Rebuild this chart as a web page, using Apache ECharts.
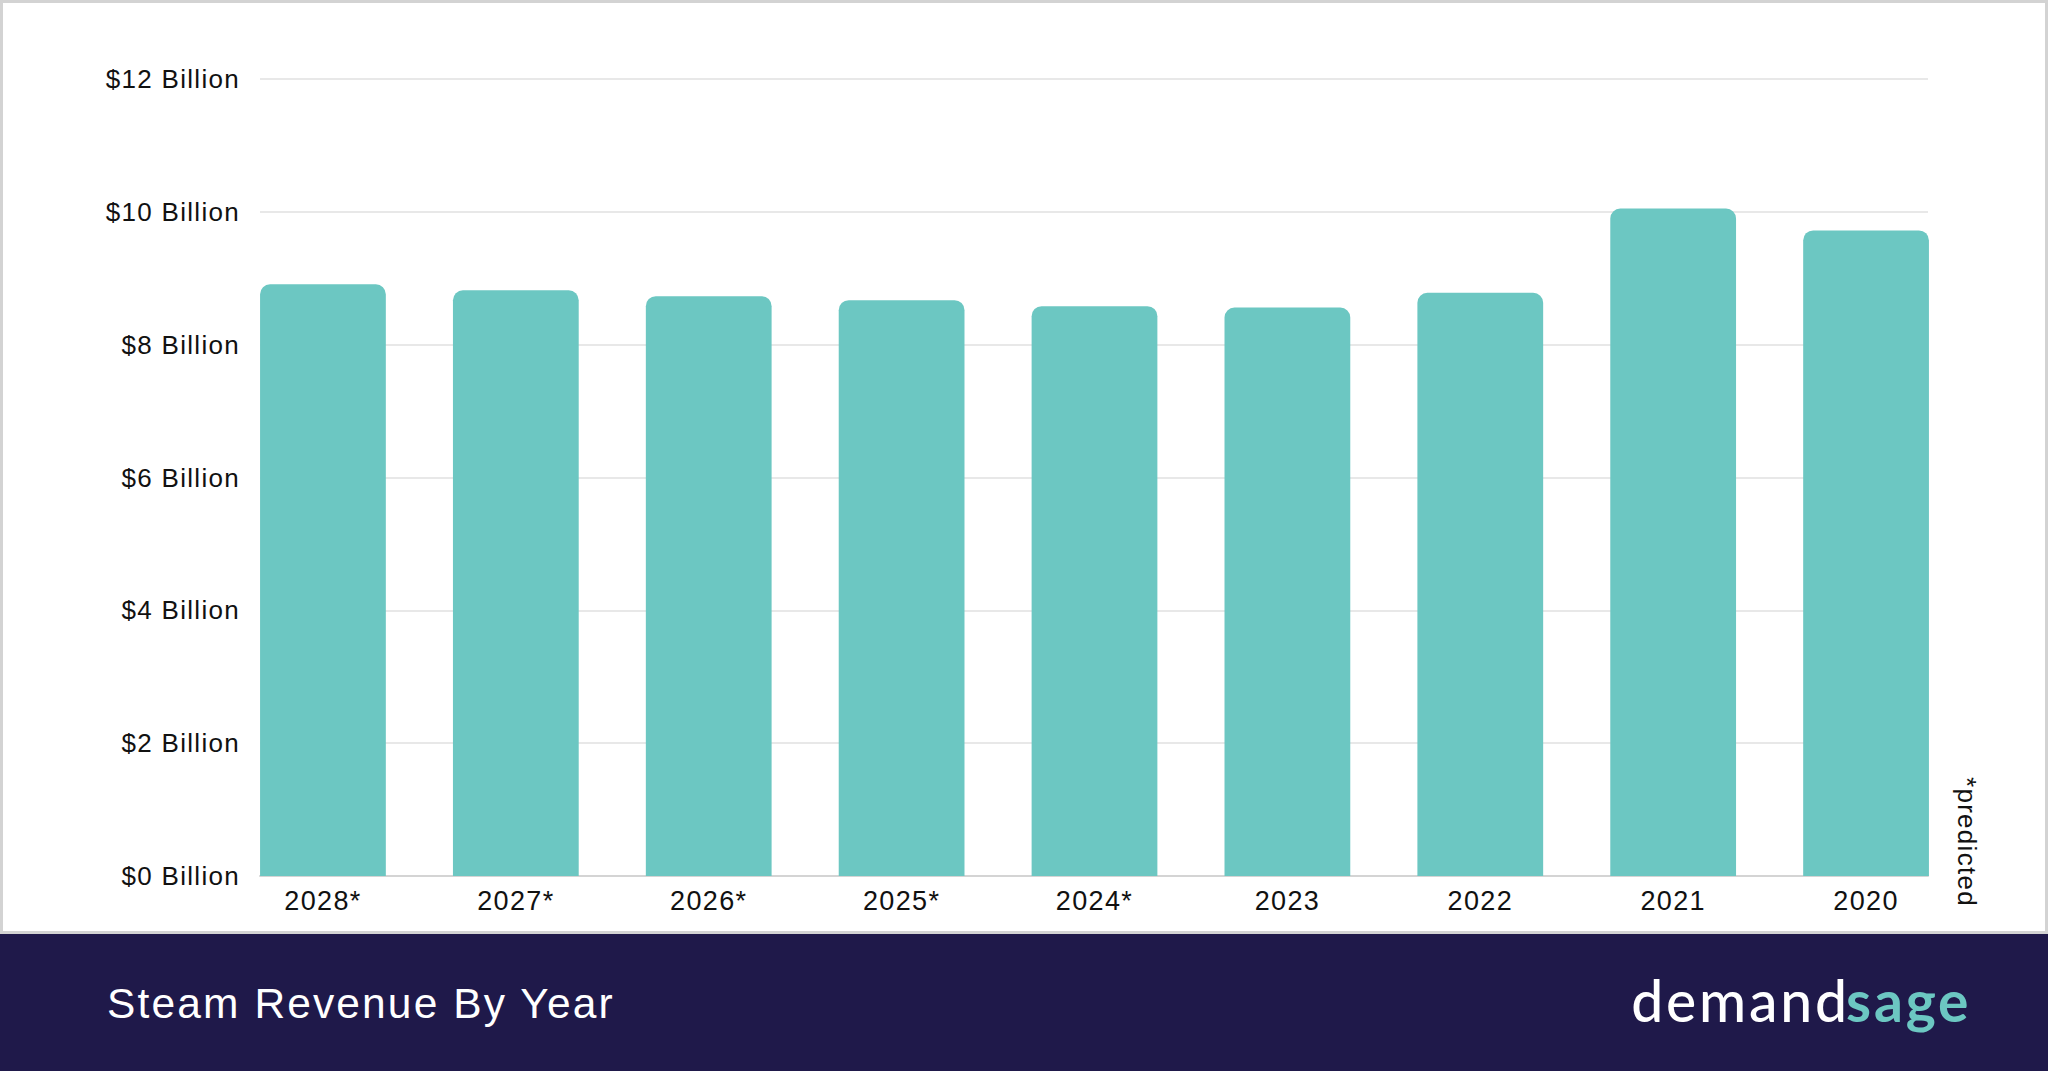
<!DOCTYPE html>
<html>
<head>
<meta charset="utf-8">
<script src="https://cdn.jsdelivr.net/npm/echarts@6/dist/echarts.min.js"></script>
<style>
html,body{margin:0;padding:0;background:#fff;}
#chart{width:2048px;height:1071px;}
#chart svg text{letter-spacing:0.05em;}
</style>
</head>
<body>
<div id="chart"></div>
<script>
const categories = ['2028*', '2027*', '2026*', '2025*', '2024*', '2023', '2022', '2021', '2020'];
const revenue = [8.91, 8.82, 8.73, 8.67, 8.58, 8.56, 8.78, 10.05, 9.72];
const yTicks = [0, 2, 4, 6, 8, 10, 12];
const chartTitle = 'Steam Revenue By Year';
const footnote = '*predicted';
const logoParts = ['demand', 'sage'];

const FONT = '"Liberation Sans", Arial, Helvetica, sans-serif';
const chart = echarts.init(document.getElementById('chart'), null, {renderer: 'svg'});

const option = {
  animation: false,
  backgroundColor: '#ffffff',
  grid: [
    {left: 260, right: 120, top: 79, bottom: 195},
    {left: 226.5, right: 85.5, top: 79, bottom: 195}
  ],
  xAxis: [
    {
      gridIndex: 0, type: 'category', data: categories,
      axisLine: {show: true, lineStyle: {color: '#d4d4d4', width: 2}},
      axisTick: {show: false}, axisLabel: {show: false}, splitLine: {show: false}
    },
    {
      gridIndex: 1, type: 'category', data: categories,
      axisLine: {show: false}, axisTick: {show: false},
      axisLabel: {show: true, margin: 11, color: '#111', fontSize: 27, fontFamily: FONT}
    }
  ],
  yAxis: [
    {
      gridIndex: 0, type: 'value', min: yTicks[0], max: yTicks[yTicks.length - 1], interval: 2,
      axisLine: {show: false}, axisTick: {show: false},
      axisLabel: {margin: 20, color: '#111', fontSize: 26, fontFamily: FONT,
        formatter: v => '$' + v + ' Billion'},
      splitLine: {show: true, lineStyle: {color: '#e8e8e8', width: 2}}
    },
    {
      gridIndex: 1, type: 'value', min: yTicks[0], max: yTicks[yTicks.length - 1], interval: 2,
      show: false, splitLine: {show: false}
    }
  ],
  series: [{
    type: 'bar', xAxisIndex: 1, yAxisIndex: 1, data: revenue,
    barWidth: '65.2%',
    itemStyle: {color: '#6cc7c2', borderRadius: [10, 10, 0, 0]}
  }],
  graphic: [
    {type: 'rect', z: -10, shape: {x: 0, y: 0, width: 2048, height: 934},
      style: {fill: 'none', stroke: '#d3d3d3', lineWidth: 6}},
    {type: 'rect', z: 10, shape: {x: 0, y: 934, width: 2048, height: 137}, style: {fill: '#1f194a'}},
    {type: 'text', z: 11, x: 107, y: 1003,
      style: {text: chartTitle, fill: '#ffffff', font: '42.5px ' + FONT, textVerticalAlign: 'middle'}},
    {type: 'text', z: 11, x: 1850, y: 1000,
      style: {text: logoParts[0], fill: '#ffffff', font: '500 57px Lato, sans-serif', textAlign: 'right', textVerticalAlign: 'middle'}},
    {type: 'text', z: 11, x: 1846, y: 1000,
      style: {text: logoParts[1], fill: '#6cc7c2', font: 'bold 57px Lato, sans-serif', textAlign: 'left', textVerticalAlign: 'middle'}},
    {type: 'text', z: 11, x: 1967, y: 842, rotation: -Math.PI / 2,
      style: {text: footnote, fill: '#111', font: '26px ' + FONT, textAlign: 'center', textVerticalAlign: 'middle'}}
  ]
};
chart.setOption(option);
</script>
</body>
</html>
